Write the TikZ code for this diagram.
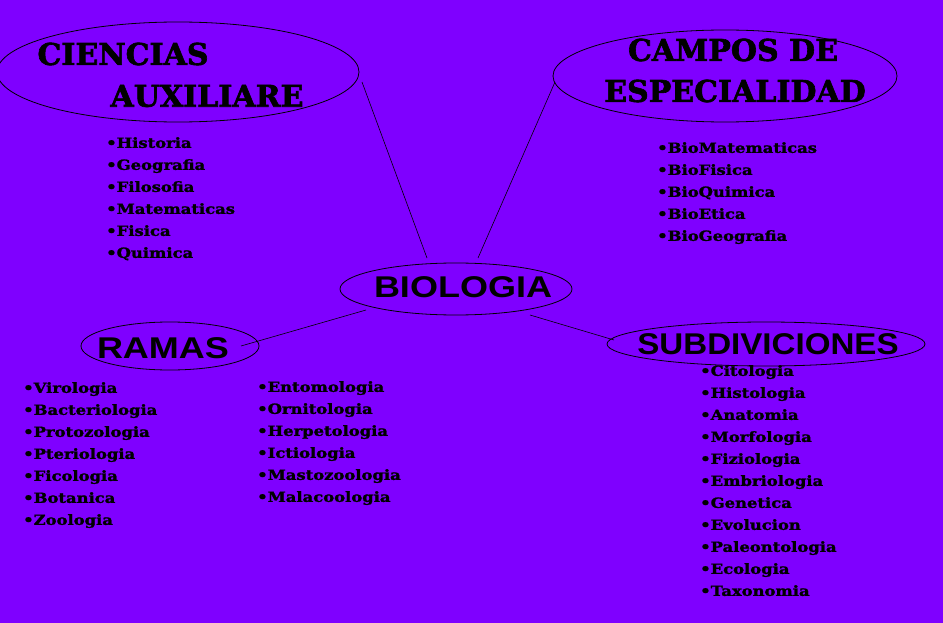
\documentclass[tikz,border=0pt]{standalone}
\usepackage{fontspec}
\setmainfont{Liberation Sans}
\newfontfamily\listfont[FakeBold=1.5]{DejaVu Serif}
\newfontfamily\titlefont[FakeBold=2]{DejaVu Serif}
\definecolor{bg}{RGB}{127,0,255}
\begin{document}
\begin{tikzpicture}[x=1pt,y=-1pt,
  ell/.style={draw=black,line width=0.8pt},
  big/.style={font=\fontsize{30}{34}\selectfont\bfseries,text=black,xscale=1.2,transform shape},
  bigs/.style={font=\titlefont\fontsize{30}{34}\selectfont\bfseries,text=black},
  lst/.style={anchor=north west,align=left,inner sep=0pt,font=\listfont\fontsize{14}{22}\selectfont\bfseries,text=black,xscale=1.17,transform shape},
  conn/.style={draw=black,line width=0.6pt}]
\fill[bg] (0,0) rectangle (943,623);
\useasboundingbox (0,0) rectangle (943,623);
\draw[ell] (178,72) ellipse [x radius=181,y radius=50];
\node[bigs] (cien1) at (123,54) {CIENCIAS};
\node[bigs] (cien2) at (207,96) {AUXILIARE};
\draw[ell] (725,76) ellipse [x radius=172,y radius=46];
\node[bigs] (camp1) at (733,50) {CAMPOS DE};
\node[bigs] (camp2) at (735,91) {ESPECIALIDAD};
\draw[ell] (456,289) ellipse [x radius=116,y radius=26];
\node[big] (bio) at (463,287) {BIOLOGIA};
\draw[ell] (170,346) ellipse [x radius=89,y radius=24];
\node[big] (ramas) at (163,348) {RAMAS};
\draw[ell] (766,344) ellipse [x radius=159,y radius=22];
\node[big,xscale=0.92] (sub) at (768,344) {SUBDIVICIONES};
\coordinate (a1) at (362,82); \coordinate (a2) at (427,258);
\coordinate (b1) at (555,82); \coordinate (b2) at (478,258);
\coordinate (c1) at (366,310); \coordinate (c2) at (241,346);
\coordinate (d1) at (530,315); \coordinate (d2) at (614,340);
\draw[conn] (a1) -- (a2);
\draw[conn] (b1) -- (b2);
\draw[conn] (c1) -- (c2);
\draw[conn] (d1) -- (d2);
\node[lst] (l1) at (106,137) {•Historia\\•Geografia\\•Filosofia\\•Matematicas\\•Fisica\\•Quimica};
\node[lst] (l2) at (657,142) {•BioMatematicas\\•BioFisica\\•BioQuimica\\•BioEtica\\•BioGeografia};
\node[lst] (l3) at (23,382) {•Virologia\\•Bacteriologia\\•Protozologia\\•Pteriologia\\•Ficologia\\•Botanica\\•Zoologia};
\node[lst] (l4) at (257,381) {•Entomologia\\•Ornitologia\\•Herpetologia\\•Ictiologia\\•Mastozoologia\\•Malacoologia};
\node[lst] (l5) at (700,365) {•Citologia\\•Histologia\\•Anatomia\\•Morfologia\\•Fiziologia\\•Embriologia\\•Genetica\\•Evolucion\\•Paleontologia\\•Ecologia\\•Taxonomia};
\end{tikzpicture}
\end{document}
